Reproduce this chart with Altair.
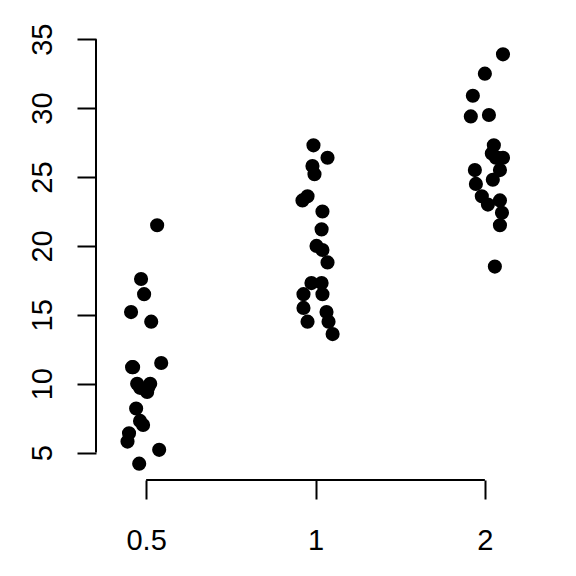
import altair as alt
import pandas as pd

# ToothGrowth-like stripchart (jittered)
dose_labels = ["0.5", "1", "2"]

len_05 = [21.5, 17.6, 16.5, 15.2, 14.5, 11.5, 11.2, 11.2, 10.0, 10.0,
          9.7, 9.7, 9.4, 8.2, 7.3, 7.0, 6.4, 5.8, 5.2, 4.2]
jit_05 = [0.065, -0.030, -0.012, -0.089, 0.030, 0.089, -0.083, -0.077, -0.053, 0.024,
          -0.036, 0.012, 0.006, -0.059, -0.036, -0.018, -0.101, -0.110, 0.077, -0.041]

len_1 = [27.3, 26.4, 25.8, 25.2, 23.6, 23.3, 22.5, 21.2, 20.0, 19.7,
         18.8, 17.3, 17.3, 16.5, 16.5, 15.5, 15.2, 14.5, 14.5, 13.6]
jit_1 = [-0.012, 0.071, -0.018, -0.006, -0.047, -0.077, 0.041, 0.036, 0.006, 0.041,
         0.071, -0.024, 0.036, -0.071, 0.041, -0.071, 0.065, -0.047, 0.077, 0.101]

len_2 = [33.9, 32.5, 30.9, 29.5, 29.4, 27.3, 26.7, 26.4, 26.4, 26.4,
         25.5, 25.5, 24.8, 24.5, 23.6, 23.3, 23.0, 22.4, 21.5, 18.5]
jit_2 = [0.107, 0.0, -0.071, 0.024, -0.083, 0.053, 0.041, 0.107, 0.077, 0.065,
         -0.059, 0.089, 0.047, -0.053, -0.018, 0.089, 0.018, 0.101, 0.089, 0.059]

rows = []
for g, (vals, jit) in enumerate([(len_05, jit_05), (len_1, jit_1), (len_2, jit_2)], start=1):
    for v, j in zip(vals, jit):
        rows.append({"pos": g + j, "len": v})
df = pd.DataFrame(rows)

y_ticks = [5, 10, 15, 20, 25, 30, 35]
x_ticks = [1, 2, 3]

FONT = "Liberation Sans"

xscale = alt.Scale(domain=[0.704, 3.296], nice=False, zero=False)
yscale = alt.Scale(domain=[3.012, 35.088], nice=False, zero=False)

label_expr = "datum.value == 1 ? '0.5' : (datum.value == 2 ? '1' : '2')"

xaxis = alt.Axis(values=x_ticks, labelExpr=label_expr, title=None, grid=False,
                 domain=False, ticks=True, tickSize=19, tickWidth=2,
                 tickColor="black", labelFont=FONT, labelFontSize=29,
                 labelColor="black", labelBaseline="alphabetic",
                 labelPadding=50, labelFlush=False)
yaxis = alt.Axis(values=y_ticks, title=None, grid=False, domain=False,
                 ticks=True, tickSize=19, tickWidth=2, tickColor="black",
                 labelFont=FONT, labelFontSize=29, labelColor="black",
                 labelAngle=-90, labelAlign="center",
                 labelBaseline="alphabetic", labelPadding=26,
                 labelFlush=False)

points = alt.Chart(df).mark_circle(size=200, color="black", opacity=1).encode(
    x=alt.X("pos:Q", scale=xscale, axis=xaxis),
    y=alt.Y("len:Q", scale=yscale, axis=yaxis),
)

yline = alt.Chart(pd.DataFrame({"a": [y_ticks[0]], "b": [y_ticks[-1]]})).mark_rule(
    color="black", strokeWidth=2).encode(
    x=alt.value(0),
    y=alt.Y("a:Q", scale=yscale, axis=yaxis),
    y2="b:Q",
)

xline = alt.Chart(pd.DataFrame({"a": [x_ticks[0]], "b": [x_ticks[-1]]})).mark_rule(
    color="black", strokeWidth=2).encode(
    y=alt.value(442),
    x=alt.X("a:Q", scale=xscale, axis=xaxis),
    x2="b:Q",
)

chart = alt.layer(points, yline, xline).properties(
    width=439, height=442,
    autosize=alt.AutoSizeParams(type="none"),
    padding={"left": 88, "top": 30, "right": 33, "bottom": 88},
).configure(background="white").configure_view(
    stroke="transparent", strokeWidth=0
).configure_axis(domain=False, grid=False)

chart.save("out.html", embed_options={"renderer": "svg", "actions": False})
